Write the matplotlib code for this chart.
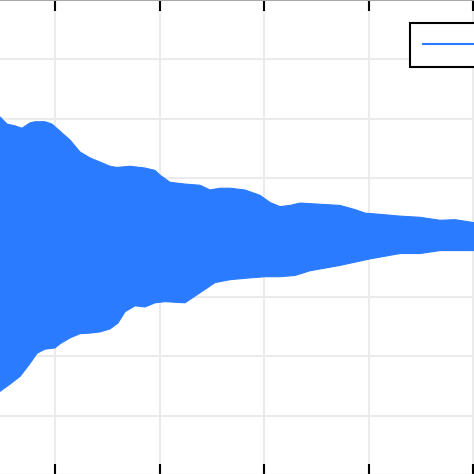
import matplotlib
matplotlib.use("Agg")
import matplotlib.pyplot as plt
import numpy as np

# Upper envelope of the oscillating signal
upper_x = [0.474, 0.541, 0.617, 0.684, 0.761, 0.809, 0.904, 0.971, 1.048, 1.144, 1.239, 1.335,
           1.431, 1.526, 1.593, 1.718, 1.861, 1.957, 2.005, 2.100, 2.244, 2.388, 2.483, 2.579,
           2.675, 2.818, 2.962, 3.057, 3.153, 3.249, 3.344, 3.536, 3.727, 3.871, 3.967, 4.110,
           4.301, 4.493, 4.684, 4.828, 5.010, 5.201]
upper_y = [2.03, 1.91, 1.88, 1.84, 1.93, 1.95, 1.95, 1.91, 1.79, 1.64, 1.44, 1.34,
           1.27, 1.20, 1.18, 1.20, 1.17, 1.13, 1.05, 0.93, 0.90, 0.88, 0.80, 0.83,
           0.83, 0.80, 0.71, 0.59, 0.52, 0.54, 0.58, 0.56, 0.54, 0.47, 0.41, 0.39,
           0.36, 0.34, 0.29, 0.30, 0.25, 0.24]

# Lower envelope of the oscillating signal
lower_x = [0.474, 0.569, 0.665, 0.761, 0.828, 0.904, 1.000, 1.048, 1.144, 1.239, 1.335, 1.431,
           1.526, 1.603, 1.670, 1.766, 1.861, 1.957, 2.053, 2.244, 2.388, 2.531, 2.675, 2.866,
           3.010, 3.153, 3.297, 3.440, 3.727, 4.014, 4.301, 4.493, 4.684, 5.010, 5.201]
lower_y = [-2.59, -2.47, -2.34, -2.12, -1.95, -1.88, -1.86, -1.79, -1.69, -1.62, -1.61, -1.59,
           -1.54, -1.44, -1.25, -1.15, -1.17, -1.10, -1.08, -1.10, -0.93, -0.76, -0.71, -0.68,
           -0.66, -0.66, -0.64, -0.56, -0.47, -0.36, -0.27, -0.27, -0.22, -0.22, -0.22]

series_label = "Signal"
x_ticks = [0, 1, 2, 3, 4, 5]
y_ticks = [-4, -3, -2, -1, 0, 1, 2, 3, 4]

color = "#2a7bff"

fig = plt.figure(figsize=(4.74, 4.74), dpi=100)
W = 474.0
xmin, xmax = 0.0, 5.2
px0 = 55 - 104.5  # pixel of x=0
px1 = 55 + 104.5 * (xmax - 1)
ax = fig.add_axes([px0 / W, -1.0 / W, (px1 - px0) / W, (474.5 + 0.5) / W])
ax.set_xlim(xmin, xmax)
ax.set_ylim(-4, 4)

grid_x = np.linspace(lower_x[0], lower_x[-1], 800)
up = np.interp(grid_x, upper_x, upper_y)
lo = np.interp(grid_x, lower_x, lower_y)
ax.fill_between(grid_x, lo, up, color=color, linewidth=0.8, edgecolor=color)
ax.plot([], [], color=color, lw=1.5, label=series_label)

ax.set_xticks(x_ticks)
ax.set_yticks(y_ticks)
ax.set_xticklabels([])
ax.set_yticklabels([])
ax.tick_params(direction="in", length=8, width=1.5, color="black", top=True, right=True)
ax.grid(True, color="#ebebeb", linewidth=1.5)
ax.set_axisbelow(True)
for s in ax.spines.values():
    s.set_color("#a8a8a8")
    s.set_linewidth(1.5)

leg = fig.legend(loc="upper left", bbox_to_anchor=(410 / W, 1 - 23 / W),
                 bbox_transform=fig.transFigure, borderaxespad=0, fontsize=14,
                 handlelength=3.2, fancybox=False, framealpha=1, edgecolor="black",
                 borderpad=0.65)
leg.get_frame().set_linewidth(1.5)

fig.savefig("out.png", dpi=100)
